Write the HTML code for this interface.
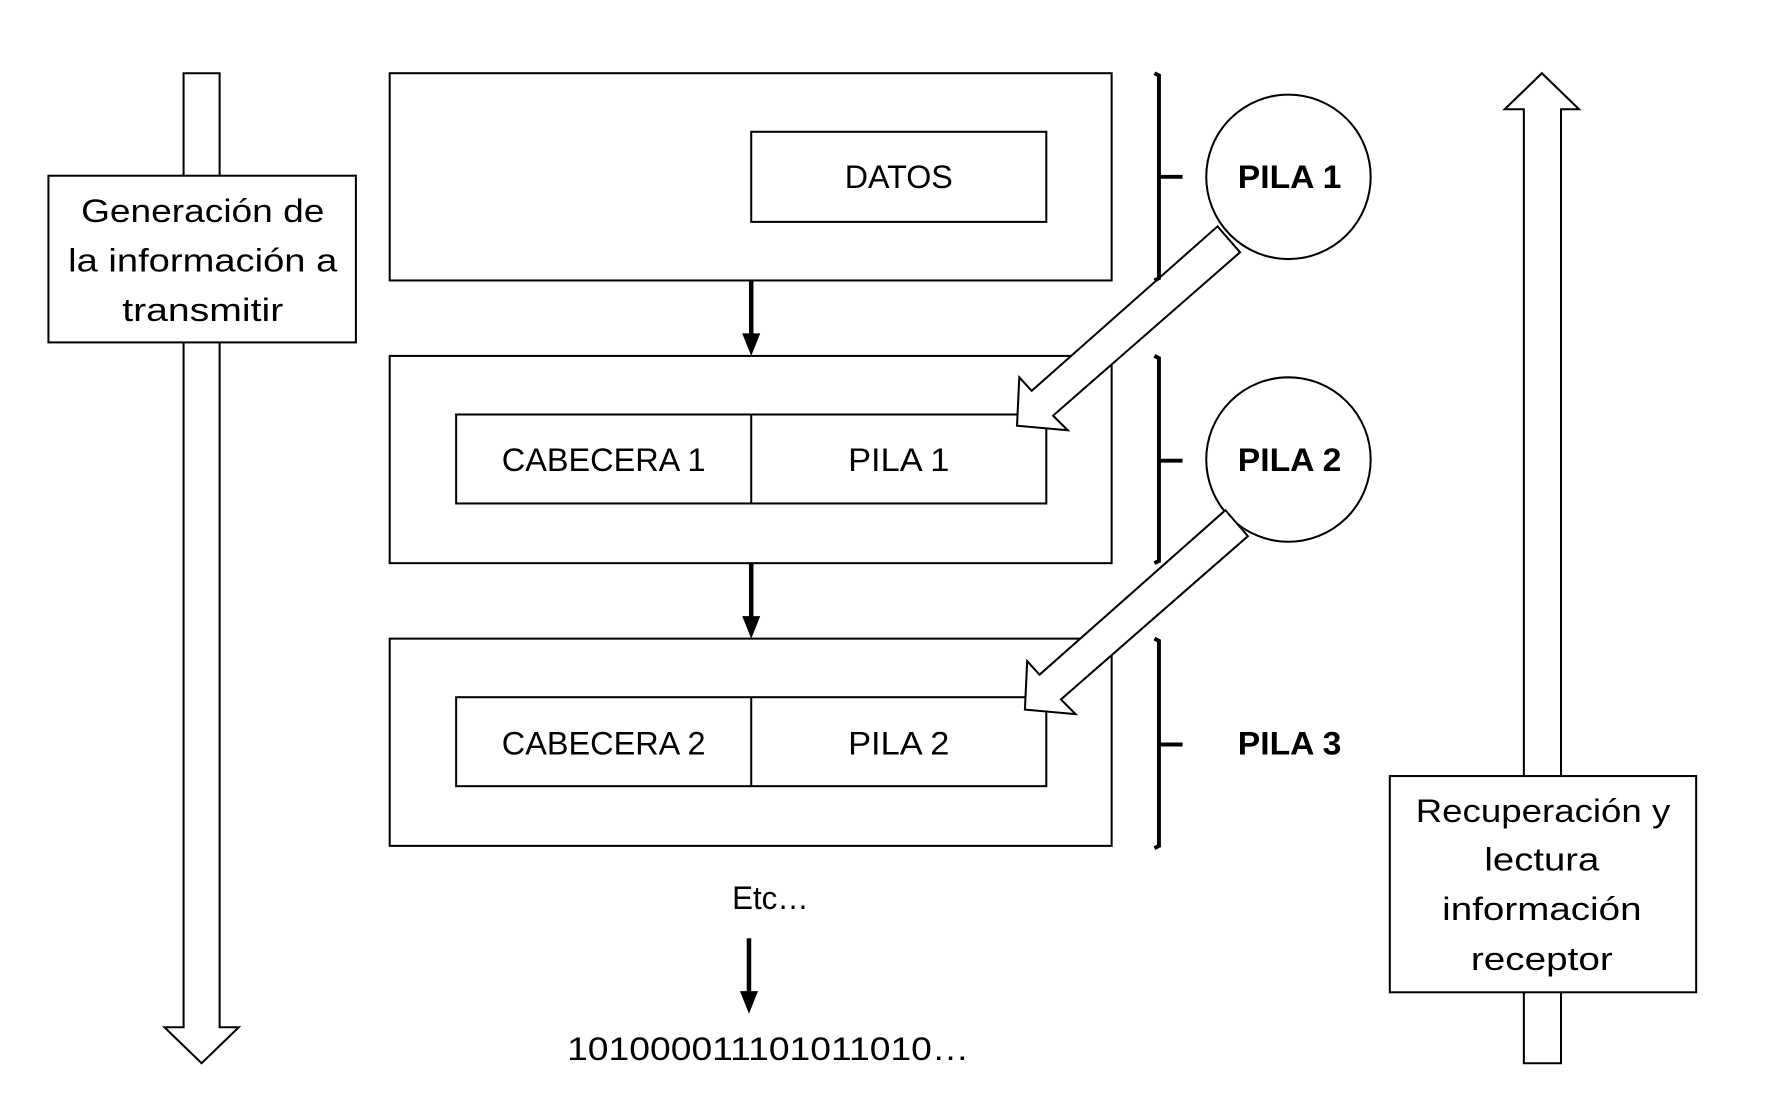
<!DOCTYPE html>
<html><head><meta charset="utf-8"><style>html,body{margin:0;padding:0;background:#fff}svg{display:block}</style></head>
<body>
<svg width="1766" height="1118" viewBox="0 0 1568 992.6" preserveAspectRatio="none" xmlns="http://www.w3.org/2000/svg" font-family="Liberation Sans, sans-serif" font-size="29">
<g fill="#fff" stroke="#000" stroke-width="1.8">
<polygon points="163,65 195,65 195,912 212,912 179,944 146,912 163,912"/>
<rect x="43" y="156" width="273" height="148"/>
<polygon points="1353,944 1386,944 1386,97 1402,97 1369,65 1336,97 1353,97"/>
<rect x="1234" y="689" width="272" height="192"/>
<rect x="346" y="65" width="641" height="184"/>
<rect x="667" y="117" width="262" height="80"/>
<rect x="346" y="316" width="641" height="184"/>
<rect x="405" y="368" width="524" height="79"/>
<line x1="667" y1="368" x2="667" y2="447"/>
<rect x="346" y="567" width="641" height="184"/>
<rect x="405" y="619" width="524" height="79"/>
<line x1="667" y1="619" x2="667" y2="698"/>
<circle cx="1144" cy="157" r="73"/>
<circle cx="1144" cy="408" r="73"/>
<polygon points="1081,201 1101,224 935,369 948,382 903,378 905,335 916,347"/>
<polygon points="1088,453 1108,476 942,621 955,634 910,630 912,587 923,599"/>
</g>
<g stroke="#000" stroke-width="4" fill="#000">
<line x1="667" y1="249" x2="667" y2="298"/>
<polygon points="659,296 675,296 667,316" stroke="none"/>
<line x1="667" y1="500" x2="667" y2="549"/>
<polygon points="659,547 675,547 667,567" stroke="none"/>
<line x1="665" y1="833" x2="665" y2="882"/>
<polygon points="657,880 673,880 665,900" stroke="none"/>
</g>
<g stroke="#000" stroke-width="3.5" fill="none">
<path d="M1025,65 L1029,67 L1029,247 L1025,249 M1029,157 L1050,157"/>
<path d="M1025,316 L1029,318 L1029,498 L1025,500 M1029,409 L1050,409"/>
<path d="M1025,567 L1029,569 L1029,751 L1025,753 M1029,661 L1050,661"/>
</g>
<g text-anchor="middle" fill="#000">
<text x="798" y="167" textLength="96" lengthAdjust="spacingAndGlyphs">DATOS</text>
<text x="536" y="418" textLength="181" lengthAdjust="spacingAndGlyphs">CABECERA 1</text>
<text x="798" y="418" textLength="90" lengthAdjust="spacingAndGlyphs">PILA 1</text>
<text x="536" y="670" textLength="181" lengthAdjust="spacingAndGlyphs">CABECERA 2</text>
<text x="798" y="670" textLength="90" lengthAdjust="spacingAndGlyphs">PILA 2</text>
<text x="684" y="807" textLength="68" lengthAdjust="spacingAndGlyphs">Etc…</text>
<text x="682" y="941" textLength="357" lengthAdjust="spacingAndGlyphs">101000011101011010…</text>
<g font-weight="bold">
<text x="1145" y="167" textLength="92" lengthAdjust="spacingAndGlyphs">PILA 1</text>
<text x="1145" y="418" textLength="92" lengthAdjust="spacingAndGlyphs">PILA 2</text>
<text x="1145" y="670" textLength="92" lengthAdjust="spacingAndGlyphs">PILA 3</text>
</g>
<text x="180" y="197" textLength="216" lengthAdjust="spacingAndGlyphs">Generación de</text>
<text x="180" y="241" textLength="239" lengthAdjust="spacingAndGlyphs">la información a</text>
<text x="180" y="285" textLength="143" lengthAdjust="spacingAndGlyphs">transmitir</text>
<text x="1370" y="730" textLength="226" lengthAdjust="spacingAndGlyphs">Recuperación y</text>
<text x="1369" y="773" textLength="102" lengthAdjust="spacingAndGlyphs">lectura</text>
<text x="1369" y="817" textLength="177" lengthAdjust="spacingAndGlyphs">información</text>
<text x="1369" y="861" textLength="126" lengthAdjust="spacingAndGlyphs">receptor</text>
</g>
</svg>
</body></html>
